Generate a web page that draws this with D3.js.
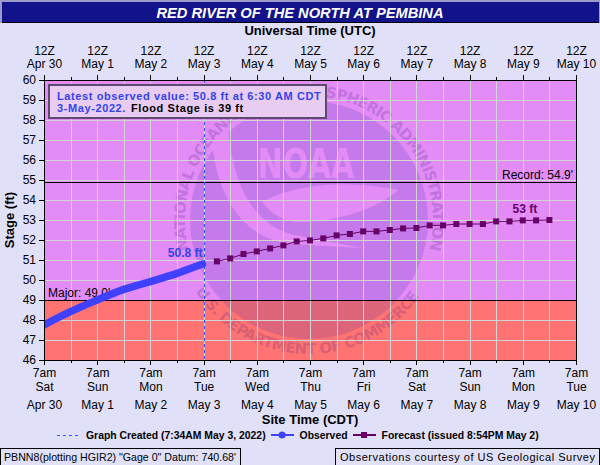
<!DOCTYPE html>
<html>
<head>
<meta charset="utf-8">
<script src="https://cdn.jsdelivr.net/npm/d3@7"></script>
<style>
  body { margin: 0; background: #E0E0F8; }
  svg { display: block; font-family: "Liberation Sans", Arial, sans-serif; }
  line, .domain { shape-rendering: crispEdges; }
</style>
</head>
<body>
<svg id="chart" width="600" height="465"></svg>
<script>
// observed stage (ft), times in UTC
const obsTimes = ['2022-04-30T12:00Z', '2022-04-30T18:00Z', '2022-05-01T00:00Z', '2022-05-01T06:00Z',
  '2022-05-01T12:00Z', '2022-05-01T18:00Z', '2022-05-02T00:00Z', '2022-05-02T06:00Z',
  '2022-05-02T12:00Z', '2022-05-02T18:00Z', '2022-05-03T00:00Z', '2022-05-03T06:00Z', '2022-05-03T11:30Z'];
const obsStage = [47.75, 48.1, 48.42, 48.72, 49.0, 49.28, 49.53, 49.73, 49.92, 50.12, 50.33, 50.58, 50.8];

// forecast stage (ft), every 6 hours from 18Z May 3
const fcStart = '2022-05-03T18:00Z';
const fcStage = [50.93, 51.08, 51.3, 51.43, 51.58, 51.73, 51.93, 51.98, 52.08, 52.23, 52.3, 52.43, 52.43,
  52.5, 52.58, 52.6, 52.73, 52.73, 52.8, 52.8, 52.8, 52.93, 52.93, 52.98, 52.98, 53.0];

const stageTicks = d3.range(46, 61);
const dateLabels = ['Apr 30', 'May 1', 'May 2', 'May 3', 'May 4', 'May 5', 'May 6', 'May 7', 'May 8', 'May 9', 'May 10'];
const dayLabels = ['Sat', 'Sun', 'Mon', 'Tue', 'Wed', 'Thu', 'Fri', 'Sat', 'Sun', 'Mon', 'Tue'];

const majorStage = 49.0;
const recordStage = 54.9;
const createdTime = '2022-05-03T12:34Z';

const legendItems = [
  { label: 'Graph Created (7:34AM May 3, 2022)', type: 'created' },
  { label: 'Observed', type: 'obs' },
  { label: 'Forecast (issued 8:54PM May 2)', type: 'fc' }
];

const FONT = '"Liberation Sans", Arial, sans-serif';
const svg = d3.select('#chart');
const m = { left: 44, right: 576, top: 80, bottom: 360 };
const W = m.right - m.left, H = m.bottom - m.top;

const t0 = new Date('2022-04-30T12:00Z');
const t1 = new Date('2022-05-10T12:00Z');
const x = d3.scaleUtc().domain([t0, t1]).range([m.left, m.right]);
const y = d3.scaleLinear().domain([46, 60]).range([m.bottom, m.top]);

const obs = obsTimes.map((t, i) => ({ t: new Date(t), v: obsStage[i] }));
const fc = fcStage.map((v, i) => ({ t: d3.utcHour.offset(new Date(fcStart), 6 * i), v: v }));
const days12 = d3.range(dateLabels.length).map(i => d3.utcDay.offset(t0, i));
const midnights = d3.range(dateLabels.length - 1).map(i => d3.utcHour.offset(t0, 24 * i + 12));
const halfDays = days12.concat(midnights);

// title bar
svg.append('rect').attr('x', 0).attr('y', 0).attr('width', 600).attr('height', 23).attr('fill', '#9C9CCC');
svg.append('rect').attr('x', 2).attr('y', 2).attr('width', 597).attr('height', 20).attr('fill', '#12128A');
svg.append('line').attr('x1', 2).attr('x2', 599).attr('y1', 22).attr('y2', 22).attr('stroke', '#000');
svg.append('text').attr('x', 300).attr('y', 18).attr('text-anchor', 'middle')
  .attr('fill', '#fff').attr('font-weight', 'bold').attr('font-style', 'italic').attr('font-size', 15)
  .attr('textLength', 287).attr('lengthAdjust', 'spacingAndGlyphs')
  .text('RED RIVER OF THE NORTH AT PEMBINA');

// flood category bands
svg.append('rect').attr('x', m.left).attr('y', y(60)).attr('width', W).attr('height', y(majorStage) - y(60))
  .attr('fill', '#E38CF8');
svg.append('rect').attr('x', m.left).attr('y', y(majorStage)).attr('width', W).attr('height', y(46) - y(majorStage))
  .attr('fill', '#FF7373');

// NOAA watermark
const defs = svg.append('defs');
defs.append('clipPath').attr('id', 'plotClip').append('rect')
  .attr('x', m.left).attr('y', m.top).attr('width', W).attr('height', H);
const wm = { cx: 309, cy: 220, r: 119 };
const mask = defs.append('mask').attr('id', 'wmMask');
mask.append('rect').attr('x', 0).attr('y', 0).attr('width', 600).attr('height', 465).attr('fill', '#000');
mask.append('circle').attr('cx', wm.cx).attr('cy', wm.cy).attr('r', wm.r).attr('fill', '#fff');
mask.append('path').attr('fill', '#000')
  .attr('d', 'M212,135 C214,190 240,238 290,244 L362,248 L300,236 C262,230 234,198 228,128 Z');
mask.append('path').attr('fill', '#000')
  .attr('d', 'M262,202 C298,182 352,180 398,190 C382,206 340,222 300,222 C282,222 270,212 262,202 Z');
mask.append('text').attr('x', wm.cx - 3).attr('y', 178).attr('text-anchor', 'middle')
  .attr('font-family', '"DejaVu Sans", sans-serif').attr('font-weight', 'bold').attr('font-size', 40)
  .attr('textLength', 97).attr('lengthAdjust', 'spacingAndGlyphs').attr('fill', '#000').text('NOAA');

function arcPath(r, a0, a1, large, sweep) {
  const p0 = [wm.cx + r * Math.cos(a0), wm.cy + r * Math.sin(a0)];
  const p1 = [wm.cx + r * Math.cos(a1), wm.cy + r * Math.sin(a1)];
  return `M${p0[0]},${p0[1]} A${r},${r} 0 ${large} ${sweep} ${p1[0]},${p1[1]}`;
}
const rad = Math.PI / 180;
defs.append('path').attr('id', 'ringTop').attr('d', arcPath(124, 166 * rad, 16 * rad, 1, 1));
defs.append('path').attr('id', 'ringBot').attr('d', arcPath(134, 148 * rad, 32 * rad, 0, 0));
const ringMask = defs.append('mask').attr('id', 'ringMask');
ringMask.append('rect').attr('x', 0).attr('y', 0).attr('width', 600).attr('height', 465).attr('fill', '#000');
ringMask.append('text').attr('font-family', '"DejaVu Sans", sans-serif').attr('font-weight', 'bold')
  .attr('font-size', 15).attr('fill', '#fff')
  .append('textPath').attr('href', '#ringTop').attr('textLength', 450).attr('lengthAdjust', 'spacing')
  .text('NATIONAL OCEANIC AND ATMOSPHERIC ADMINISTRATION');
ringMask.append('text').attr('font-family', '"DejaVu Sans", sans-serif').attr('font-weight', 'bold')
  .attr('font-size', 15).attr('fill', '#fff')
  .append('textPath').attr('href', '#ringBot').attr('textLength', 265).attr('lengthAdjust', 'spacing')
  .text('U.S. DEPARTMENT OF COMMERCE');

const wmG = svg.append('g').attr('clip-path', 'url(#plotClip)');
wmG.append('rect').attr('x', 0).attr('y', 0).attr('width', 600).attr('height', 465)
  .attr('fill', 'rgba(40,30,170,0.16)').attr('mask', 'url(#wmMask)');
wmG.append('rect').attr('x', 0).attr('y', 0).attr('width', 600).attr('height', 465)
  .attr('fill', 'rgba(60,20,120,0.2)').attr('mask', 'url(#ringMask)');

// grid
const gridX = svg.append('g').attr('transform', `translate(0,${m.bottom})`)
  .call(d3.axisBottom(x).tickValues(halfDays).tickSize(-H).tickFormat(''));
const gridY = svg.append('g').attr('transform', `translate(${m.left},0)`)
  .call(d3.axisLeft(y).tickValues(stageTicks).tickSize(-W).tickFormat(''));
[gridX, gridY].forEach(g => {
  g.select('.domain').remove();
  g.selectAll('.tick text').remove();
  g.selectAll('line').attr('stroke', '#D4D4D4');
});

// major / record lines
svg.append('line').attr('x1', m.left).attr('x2', m.right).attr('y1', y(majorStage)).attr('y2', y(majorStage))
  .attr('stroke', '#000');
svg.append('line').attr('x1', m.left).attr('x2', m.right).attr('y1', y(recordStage)).attr('y2', y(recordStage))
  .attr('stroke', '#000');
svg.append('text').attr('x', m.left + 4).attr('y', y(majorStage) - 3).attr('font-size', 12)
  .text("Major: 49.0'");
svg.append('text').attr('x', m.right - 3).attr('y', y(recordStage) - 3).attr('font-size', 12)
  .attr('text-anchor', 'end').text("Record: 54.9'");

// graph created line
svg.append('line').attr('x1', x(new Date(createdTime))).attr('x2', x(new Date(createdTime)))
  .attr('y1', m.top).attr('y2', m.bottom).attr('stroke', '#3355FF').attr('stroke-dasharray', '3,3');

// observed
svg.append('path').datum(obs)
  .attr('d', d3.line().x(d => x(d.t)).y(d => y(d.v)).curve(d3.curveMonotoneX))
  .attr('fill', 'none').attr('stroke', '#4040FF').attr('stroke-width', 7.5).attr('stroke-linecap', 'round')
  .attr('clip-path', 'url(#plotClip)');

// forecast
svg.append('path').datum(fc)
  .attr('d', d3.line().x(d => x(d.t)).y(d => y(d.v)))
  .attr('fill', 'none').attr('stroke', '#660066').attr('stroke-width', 1);
svg.selectAll('.fcpt').data(fc).enter().append('rect').attr('class', 'fcpt')
  .attr('x', d => x(d.t) - 3).attr('y', d => y(d.v) - 3).attr('width', 6).attr('height', 6)
  .attr('fill', '#660066');

const lastObs = obs[obs.length - 1];
svg.append('text').attr('x', x(lastObs.t)).attr('y', y(lastObs.v) - 7).attr('text-anchor', 'end')
  .attr('font-size', 12).attr('font-weight', 'bold').attr('fill', '#3344EE').text('50.8 ft');
const peak = fc[fc.length - 3];
svg.append('text').attr('x', x(peak.t) + 2).attr('y', y(d3.max(fcStage)) - 7).attr('text-anchor', 'middle')
  .attr('font-size', 12).attr('font-weight', 'bold').attr('fill', '#660066').text('53 ft');

// info box
svg.append('rect').attr('x', 49).attr('y', 85).attr('width', 277).attr('height', 33)
  .attr('fill', '#E8CCF2').attr('stroke', '#5E4A6E').attr('stroke-width', 2);
const info = svg.append('g').attr('font-size', 11).attr('font-weight', 'bold').attr('letter-spacing', 0.6);
info.append('text').attr('x', 57).attr('y', 100).attr('fill', '#3344EE')
  .text('Latest observed value: 50.8 ft at 6:30 AM CDT');
const info2 = info.append('text').attr('x', 57).attr('y', 112);
info2.append('tspan').attr('fill', '#3344EE').text('3-May-2022.');
info2.append('tspan').attr('fill', '#000').attr('dx', 5).text('Flood Stage is 39 ft');

// axes
const yAxis = svg.append('g').attr('transform', `translate(${m.left},0)`)
  .call(d3.axisLeft(y).tickValues(stageTicks).tickSize(5).tickPadding(3));
yAxis.attr('font-family', FONT).attr('font-size', 12);
yAxis.selectAll('text').attr('fill', '#000');

const topMajor = svg.append('g').attr('transform', `translate(0,${m.top})`)
  .call(d3.axisTop(x).tickValues(days12).tickSize(5).tickFormat(''));
const topMinor = svg.append('g').attr('transform', `translate(0,${m.top})`)
  .call(d3.axisTop(x).tickValues(midnights).tickSize(3).tickFormat(''));
const botMajor = svg.append('g').attr('transform', `translate(0,${m.bottom})`)
  .call(d3.axisBottom(x).tickValues(days12).tickSize(5).tickFormat(''));
const botMinor = svg.append('g').attr('transform', `translate(0,${m.bottom})`)
  .call(d3.axisBottom(x).tickValues(midnights).tickSize(3).tickFormat(''));
[topMajor, topMinor, botMajor, botMinor].forEach(g => g.selectAll('.tick text').remove());
[topMinor, botMinor].forEach(g => g.select('.domain').remove());

topMajor.selectAll('.tick').each(function (d, i) {
  const g = d3.select(this);
  g.append('text').attr('y', -25).attr('fill', '#000').text('12Z');
  g.append('text').attr('y', -12).attr('fill', '#000').text(dateLabels[i]);
});
topMajor.attr('font-family', FONT).attr('font-size', 12);

botMajor.selectAll('.tick').each(function (d, i) {
  const g = d3.select(this);
  g.append('text').attr('y', 17).attr('fill', '#000').text('7am');
  g.append('text').attr('y', 31).attr('fill', '#000').text(dayLabels[i]);
  g.append('text').attr('y', 49).attr('fill', '#000').text(dateLabels[i]);
});
botMajor.attr('font-family', FONT).attr('font-size', 12);

svg.append('line').attr('x1', m.right).attr('x2', m.right).attr('y1', m.top).attr('y2', m.bottom)
  .attr('stroke', '#000');

// axis titles
svg.append('text').attr('x', 310).attr('y', 35).attr('text-anchor', 'middle')
  .attr('font-weight', 'bold').attr('font-size', 13).text('Universal Time (UTC)');
svg.append('text').attr('x', 310).attr('y', 424).attr('text-anchor', 'middle')
  .attr('font-weight', 'bold').attr('font-size', 13).text('Site Time (CDT)');
svg.append('text').attr('transform', 'translate(14,220) rotate(-90)').attr('text-anchor', 'middle')
  .attr('font-weight', 'bold').attr('font-size', 13).text('Stage (ft)');

// legend
const legend = svg.append('g').attr('font-size', 10.4).attr('font-weight', 'bold');
let lx = 57;
legendItems.forEach(d => {
  const g = legend.append('g').attr('transform', `translate(${lx},435)`);
  if (d.type === 'created') {
    g.append('line').attr('x1', 0).attr('x2', 23).attr('stroke', '#3355FF').attr('stroke-dasharray', '3,3');
  } else if (d.type === 'obs') {
    g.append('line').attr('x1', 0).attr('x2', 23).attr('stroke', '#4040FF').attr('stroke-width', 1.5);
    g.append('circle').attr('cx', 11.5).attr('r', 3.5).attr('fill', '#4040FF');
  } else {
    g.append('line').attr('x1', 0).attr('x2', 23).attr('stroke', '#660066').attr('stroke-width', 1.5);
    g.append('rect').attr('x', 8.5).attr('y', -3).attr('width', 6).attr('height', 6).attr('fill', '#660066');
  }
  const t = g.append('text').attr('x', 29).attr('y', 4).text(d.label);
  lx += 29 + t.node().getComputedTextLength() + 5;
});

// footer
svg.append('rect').attr('x', 0.5).attr('y', 448.5).attr('width', 240).attr('height', 20)
  .attr('fill', 'none').attr('stroke', '#000');
svg.append('text').attr('x', 4).attr('y', 461).attr('font-size', 11)
  .attr('textLength', 232).attr('lengthAdjust', 'spacingAndGlyphs')
  .text('PBNN8(plotting HGIR2) "Gage 0" Datum: 740.68\'');
svg.append('rect').attr('x', 335.5).attr('y', 448.5).attr('width', 264).attr('height', 20)
  .attr('fill', 'none').attr('stroke', '#000');
svg.append('text').attr('x', 340).attr('y', 461).attr('font-size', 11)
  .attr('textLength', 255).attr('lengthAdjust', 'spacing')
  .text('Observations courtesy of US Geological Survey');
</script>
</body>
</html>
